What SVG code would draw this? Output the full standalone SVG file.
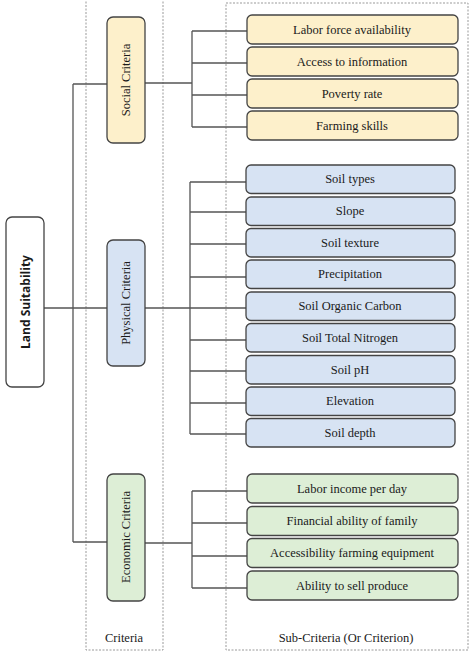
<svg xmlns="http://www.w3.org/2000/svg" width="474" height="655" viewBox="0 0 474 655">
<style>
text{font-family:"Liberation Serif","DejaVu Serif",serif;font-size:12.5px;fill:#1a1a1a;text-anchor:middle;dominant-baseline:central}
.zone{fill:none;stroke:#999;stroke-width:1;stroke-dasharray:2 1.5}
.node{stroke:#444;stroke-width:1.3}
.soc{fill:#fdf0cb}
.phy{fill:#d7e3f3}
.eco{fill:#ddeed6}
.root{fill:#fff}
.con{fill:none;stroke:#555;stroke-width:1.3}
</style>
<rect width="474" height="655" fill="#fff"/>
<g id="zones">
<rect class="zone" x="86" y="-2" width="77" height="652"/>
<rect class="zone" x="226" y="3" width="242" height="647"/>
<text x="124" y="638">Criteria</text>
<text x="346" y="638">Sub-Criteria (Or Criterion)</text>
</g>
<g id="connectors">
<path class="con" d="M44 308H73M73 84V542M73 84H107M73 308H107M73 542H107"/>
<path class="con" d="M145 83H192M192 31V127M192 31H247M192 63H247M192 95H247M192 127H247"/>
<path class="con" d="M145 308H190M190 182V434M190 182H246M190 212H246M190 244H246M190 277H246M190 308H246M190 340H246M190 371H246M190 403H246M190 434H246"/>
<path class="con" d="M145 543H192M192 491V588M192 491H247M192 523H247M192 556H247M192 588H247"/>
</g>
<g id="land-suitability">
<rect class="node root" x="6" y="217" width="38" height="170" rx="6"/>
<text x="25" y="302" transform="rotate(-90 25 302)" style="font-family:'Open Sans','DejaVu Sans',sans-serif;font-size:12px;font-weight:bold">Land Suitability</text>
</g>
<g id="social-criteria">
<rect class="node soc" x="107" y="17" width="38" height="126" rx="6"/>
<text x="126" y="80" transform="rotate(-90 126 80)">Social Criteria</text>
</g>
<g id="physical-criteria">
<rect class="node phy" x="107" y="240" width="38" height="126" rx="6"/>
<text x="126" y="303" transform="rotate(-90 126 303)">Physical Criteria</text>
</g>
<g id="economic-criteria">
<rect class="node eco" x="107" y="474" width="38" height="127" rx="6"/>
<text x="126" y="537" transform="rotate(-90 126 537)">Economic Criteria</text>
</g>
<g id="labor-force"><rect class="node soc" x="247" y="15" width="211" height="29" rx="5"/><text x="352" y="30">Labor force availability</text></g>
<g id="access-info"><rect class="node soc" x="247" y="47" width="211" height="29" rx="5"/><text x="352" y="62">Access to information</text></g>
<g id="poverty"><rect class="node soc" x="247" y="79" width="211" height="29" rx="5"/><text x="352" y="94">Poverty rate</text></g>
<g id="farming-skills"><rect class="node soc" x="247" y="111" width="211" height="29" rx="5"/><text x="352" y="126">Farming skills</text></g>
<g id="soil-types"><rect class="node phy" x="246" y="165" width="209" height="28.5" rx="5"/><text x="350" y="179">Soil types</text></g>
<g id="slope"><rect class="node phy" x="246" y="197" width="209" height="28.5" rx="5"/><text x="350" y="211">Slope</text></g>
<g id="soil-texture"><rect class="node phy" x="246" y="228.5" width="209" height="28.5" rx="5"/><text x="350" y="243">Soil texture</text></g>
<g id="precipitation"><rect class="node phy" x="246" y="260" width="209" height="28.5" rx="5"/><text x="350" y="274">Precipitation</text></g>
<g id="soil-organic-carbon"><rect class="node phy" x="246" y="292" width="209" height="28.5" rx="5"/><text x="350" y="306">Soil Organic Carbon</text></g>
<g id="soil-total-nitrogen"><rect class="node phy" x="246" y="323.5" width="209" height="28.5" rx="5"/><text x="350" y="338">Soil Total Nitrogen</text></g>
<g id="soil-ph"><rect class="node phy" x="246" y="355.5" width="209" height="28.5" rx="5"/><text x="350" y="370">Soil pH</text></g>
<g id="elevation"><rect class="node phy" x="246" y="387" width="209" height="28.5" rx="5"/><text x="350" y="401">Elevation</text></g>
<g id="soil-depth"><rect class="node phy" x="246" y="418.5" width="209" height="28.5" rx="5"/><text x="350" y="433">Soil depth</text></g>
<g id="labor-income"><rect class="node eco" x="247" y="474" width="211" height="29" rx="5"/><text x="352" y="489">Labor income per day</text></g>
<g id="financial-ability"><rect class="node eco" x="247" y="506.5" width="211" height="29" rx="5"/><text x="352" y="521">Financial ability of family</text></g>
<g id="accessibility-equipment"><rect class="node eco" x="247" y="538.5" width="211" height="29" rx="5"/><text x="352" y="553">Accessibility farming equipment</text></g>
<g id="ability-sell"><rect class="node eco" x="247" y="571" width="211" height="29" rx="5"/><text x="352" y="586">Ability to sell produce</text></g>
</svg>
